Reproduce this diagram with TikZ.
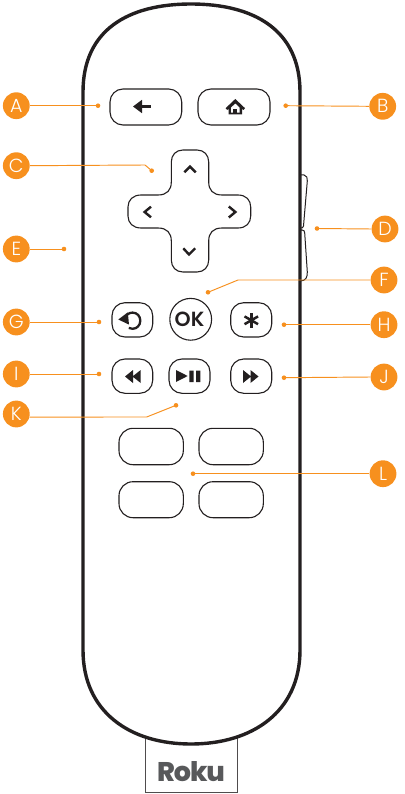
\documentclass[tikz,border=0pt]{standalone}
\usepackage{fontspec}
\setmainfont{Poppins Light}
\newfontfamily\okfont{Poppins SemiBold}
\newfontfamily\rokufont[LetterSpace=-4]{Poppins ExtraBold}
\definecolor{ink}{HTML}{231F20}
\definecolor{accent}{HTML}{F7901E}
\definecolor{logo}{HTML}{58595B}
\tikzset{
  bodyline/.style={draw=ink,line width=3.4pt,fill=white},
  btn/.style={draw=ink,line width=1.1pt,fill=white,rounded corners=13pt},
  sidebtn/.style={draw=ink,line width=1pt,fill=white,line join=round},
  tabline/.style={draw=ink!80,line width=0.9pt,fill=white},
  chev/.style={draw=ink,line width=2.4pt,line join=miter,line cap=butt},
  icon/.style={fill=ink,draw=none},
  badge/.style={circle,fill=accent,draw=none,minimum size=26.8pt,inner sep=0pt,text=white,font=\fontsize{19}{19}\selectfont},
  pin/.style={circle,fill=accent,draw=none,minimum size=4.6pt,inner sep=0pt},
  leader/.style={draw=accent,line width=0.95pt},
}
\begin{document}
\begin{tikzpicture}[x=1pt,y=-1pt]
\useasboundingbox (0,0) rectangle (404,794);
% tab
\draw[tabline] (145,730) -- (145,792) -- (237,792) -- (237,730);
\node[text=logo,font=\rokufont\fontsize{27}{27}\selectfont,inner sep=0pt] (roku) at (191,772) {Roku};
% side buttons
\draw[sidebtn] (300,175) -- (304,175) .. controls (307,175.5) and (307.5,178) .. (307.3,181) -- (303.5,226) .. controls (303.3,228) and (302,228) .. (300,228);
\draw[sidebtn] (300,230) -- (302,230) .. controls (304,230) and (304.5,231) .. (304.7,233) -- (307.3,272) .. controls (307.5,277) and (306,281) .. (300,281);
% body
\draw[bodyline] (83,92) .. controls (83,30) and (128,4) .. (191,4) .. controls (254,4) and (300,30) .. (300,92) -- (300,650) .. controls (300,712) and (252,744) .. (191,744) .. controls (130,744) and (83,712) .. (83,650) -- cycle;
% top buttons
\draw[btn] (110,89) rectangle (181.7,125);
\draw[btn] (198,89) rectangle (270,125);
% back arrow
\path[icon] (133,106.5) -- (142,99.8) -- (142,113.2) -- cycle;
\draw[draw=ink,line width=2.2pt] (140,106.5) -- (151,106.5);
% home
\path[icon] (225.6,108.2) -- (235.3,99) -- (245,108.2) -- (243.4,110) -- (242,108.8) -- (242,114.3) -- (228.6,114.3) -- (228.6,108.8) -- (227.2,110) -- cycle;
\path[fill=white] (231,112.6) -- (231,107.6) -- (235.3,103.6) -- (239.6,107.6) -- (239.6,112.6) -- cycle;
\path[icon] (233.2,114.3) -- (233.2,109) -- (237.4,109) -- (237.4,114.3) -- cycle;
% d-pad
\draw[draw=ink,line width=1.1pt,fill=white] (171.3,162) .. controls (171.3,155) and (176,150) .. (183,150) -- (197,150) .. controls (204,150) and (208.7,155) .. (208.7,162) -- (208.7,182) .. controls (208.7,190) and (213,195) .. (222,195) -- (238,195) .. controls (246,195) and (250.7,200) .. (250.7,207) -- (250.7,216) .. controls (250.7,223) and (246,228) .. (238,228) -- (222,228) .. controls (213,228) and (208.7,233) .. (208.7,241) -- (208.7,260) .. controls (208.7,267) and (204,272) .. (197,272) -- (183,272) .. controls (176,272) and (171.3,267) .. (171.3,260) -- (171.3,241) .. controls (171.3,233) and (167,228) .. (158,228) -- (141,228) .. controls (133,228) and (128,223) .. (128,216) -- (128,207) .. controls (128,200) and (133,195) .. (141,195) -- (158,195) .. controls (167,195) and (171.3,190) .. (171.3,182) -- cycle;
\draw[chev] (184.3,172.3) -- (190,166.6) -- (195.7,172.3);
\draw[chev] (183.3,248.3) -- (189,254.5) -- (195.2,248.3);
\draw[chev] (151,206.7) -- (144.6,212) -- (151,217.3);
\draw[chev] (228.8,206.5) -- (235.4,212) -- (228.8,217.5);
% replay row
\draw[btn] (112,302.7) rectangle (152.7,337);
\draw[draw=ink,line width=1.1pt,fill=white] (190.7,319.3) circle[radius=20.9];
\draw[btn] (230.7,302.7) rectangle (271.7,337);
\draw[draw=ink,line width=2.3pt] (126.5,315) .. controls (129,313) and (131,312.6) .. (132.5,312.6) .. controls (137,312.6) and (140.3,316) .. (140.3,320.7) .. controls (140.3,325.4) and (136.8,328.8) .. (132.5,328.8) .. controls (131.2,328.8) and (130,328.5) .. (128.8,327.9);
\path[icon] (118.3,319.5) -- (127.8,312.4) -- (129,324.6) -- cycle;
\node[text=ink,font=\okfont\fontsize{20.5}{20.5}\selectfont,inner sep=0pt] (oktext) at (189.5,319.5) {OK};
\foreach \a in {90,30,-30}{\draw[draw=ink,line width=2.5pt] (251.3,320.3) -- ++(\a:7.8) (251.3,320.3) -- ++(\a+180:7.8);}
% transport row
\draw[btn] (112,359) rectangle (152.7,393.3);
\draw[btn] (169,359) rectangle (210,393.3);
\draw[btn] (230.7,359) rectangle (271.7,393.3);
\path[icon] (125,376.5) -- (133,370) -- (133,383) -- cycle (132.5,376.5) -- (140.7,370) -- (140.7,383) -- cycle;
\path[icon] (176,370) -- (187.7,376) -- (176,382) -- cycle;
\path[icon] (189.3,370.5) rectangle (193.7,382) (196,370.5) rectangle (200.3,382);
\path[icon] (258.5,376.5) -- (250.5,370) -- (250.5,383) -- cycle (251,376.5) -- (243,370) -- (243,383) -- cycle;
% lower buttons
\draw[btn,rounded corners=14pt] (119,428.3) rectangle (183.3,464.7);
\draw[btn,rounded corners=14pt] (199,428.3) rectangle (263.3,464.7);
\draw[btn,rounded corners=14pt] (119,481.7) rectangle (183.3,517.7);
\draw[btn,rounded corners=14pt] (199,481.7) rectangle (263.3,517.7);
% badges
\node[badge] (la) at (16.3,105.7) {A};
\node[badge] (lb) at (382.7,106.3) {B};
\node[badge] (lc) at (16.3,165.7) {C};
\node[badge] (ld) at (385,229) {D};
\node[badge] (le) at (16.3,249) {E};
\node[badge] (lf) at (384,280) {F};
\node[badge] (lg) at (16.3,322) {G};
\node[badge] (lh) at (384,324.7) {H};
\node[badge] (li) at (16.3,374) {I};
\node[badge] (lj) at (384,377) {J};
\node[badge] (lk) at (16.3,414) {K};
\node[badge] (ll) at (383,473.7) {L};
% pins
\node[pin] (pa) at (98,105.7) {};
\node[pin] (pb) at (285.7,105.7) {};
\node[pin] (pc) at (151.7,170.7) {};
\node[pin] (pd) at (317,228.5) {};
\node[pin] (pe) at (64,249) {};
\node[pin] (pf) at (208,292.3) {};
\node[pin] (pg) at (99,322) {};
\node[pin] (ph) at (284,324.7) {};
\node[pin] (pi) at (99,374) {};
\node[pin] (pj) at (284,377.7) {};
\node[pin] (pk) at (176,405.3) {};
\node[pin] (pl) at (193,473.7) {};
\coordinate (ec) at (145,165);
\coordinate (ef) at (238,280);
\coordinate (ek) at (146.7,417);
% leaders
\draw[leader] (la.east) -- (pa.center);
\draw[leader] (lb.west) -- (pb.center);
\draw[leader] (lc.east) -- (ec) -- (pc.center);
\draw[leader] (ld.west) -- (pd.center);
\draw[leader] (le.east) -- (pe.center);
\draw[leader] (lf.west) -- (ef) -- (pf.center);
\draw[leader] (lg.east) -- (pg.center);
\draw[leader] (lh.west) -- (ph.center);
\draw[leader] (li.east) -- (pi.center);
\draw[leader] (lj.west) -- (pj.center);
\draw[leader] (lk.-13) -- (ek) -- (pk.center);
\draw[leader] (ll.west) -- (pl.center);
\end{tikzpicture}
\end{document}
